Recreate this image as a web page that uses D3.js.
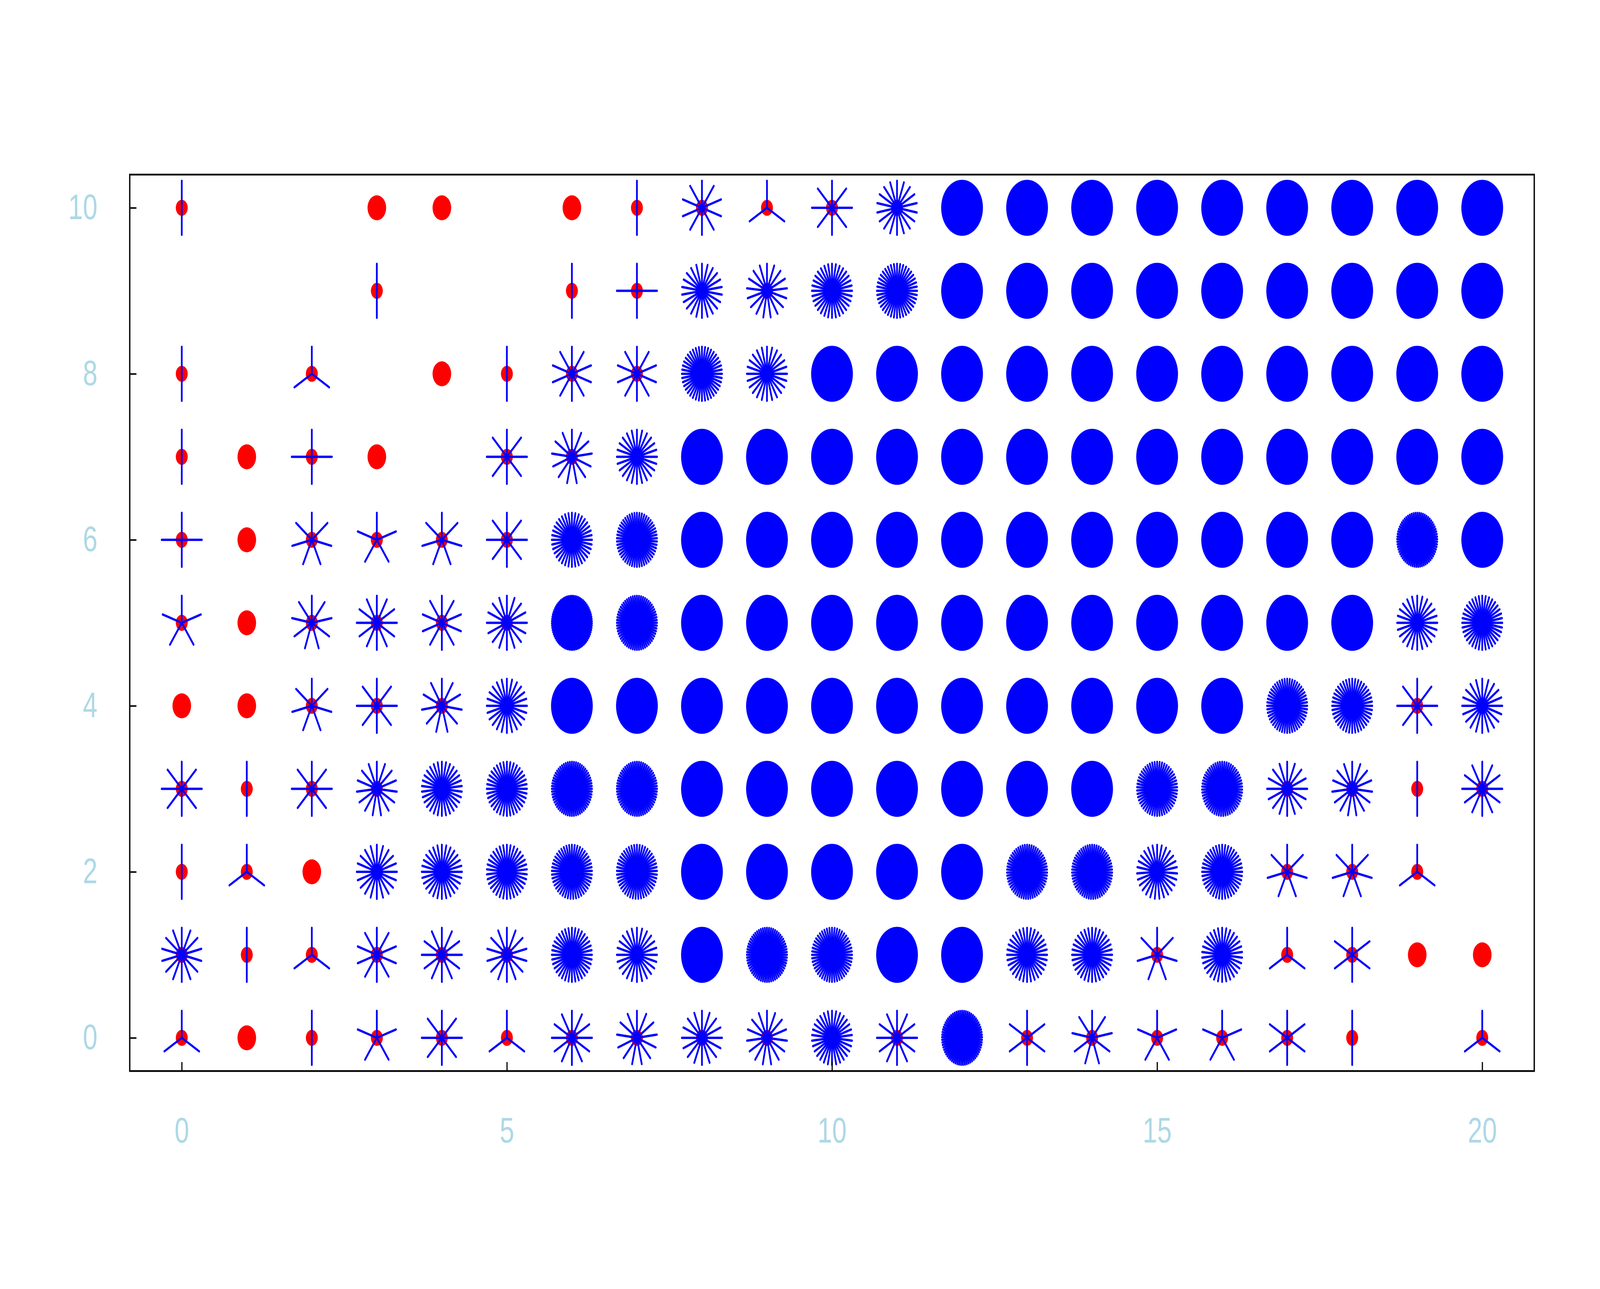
<!DOCTYPE html>
<html>
<head>
<meta charset="utf-8">
<script src="https://cdn.jsdelivr.net/npm/d3@7"></script>
<style>
  html, body { margin: 0; padding: 0; background: #ffffff; width: 100%; height: 100%; overflow: hidden; }
  svg { display: block; width: 100vw; height: 100vh; }
</style>
</head>
<body>
<svg id="chart" viewBox="0 0 5500 3300" preserveAspectRatio="none"></svg>
<script>
// ---- data: number of observations at each (x, y) grid cell, one array per y level ----
const xValues = [0,1,2,3,4,5,6,7,8,9,10,11,12,13,14,15,16,17,18,19,20];
const yValues = [0,1,2,3,4,5,6,7,8,9,10];
const countsY0  = [3,1,2,5,8,3,12,13,16,15,30,12,65,6,9,5,5,6,2,0,3];
const countsY1  = [14,2,3,10,12,14,36,24,100,60,48,100,100,32,32,7,30,3,6,1,1];
const countsY2  = [2,3,1,20,28,34,45,45,100,100,100,100,100,55,55,27,40,7,7,3,0];
const countsY3  = [8,2,8,15,30,36,60,60,100,100,100,100,100,100,100,50,55,16,15,2,12];
const countsY4  = [1,1,7,8,11,24,100,100,100,100,100,100,100,100,100,100,100,48,40,8,20];
const countsY5  = [5,1,9,12,10,16,75,60,100,100,100,100,100,100,100,100,100,100,100,24,36];
const countsY6  = [4,1,7,5,7,8,36,50,100,100,100,100,100,100,100,100,100,100,100,65,100];
const countsY7  = [2,1,4,1,0,8,13,24,100,100,100,100,100,100,100,100,100,100,100,100,100];
const countsY8  = [2,0,3,0,1,2,10,10,40,24,100,100,100,100,100,100,100,100,100,100,100];
const countsY9  = [0,0,0,2,0,0,2,4,22,17,32,40,100,100,100,100,100,100,100,100,100];
const countsY10 = [2,0,0,1,1,0,1,2,10,3,8,18,100,100,100,100,100,100,100,100,100];
const xTickValues = [0,5,10,15,20];
const yTickValues = [0,2,4,6,8,10];

const countRows = [countsY0,countsY1,countsY2,countsY3,countsY4,countsY5,countsY6,countsY7,countsY8,countsY9,countsY10];
const cells = [];
yValues.forEach((y, j) => {
  xValues.forEach((x, i) => {
    const n = countRows[j][i];
    if (n > 0) cells.push({x, y, n});
  });
});

// ---- layout (drawn in a 5500 x 3300 coordinate space that fills the window) ----
const W = 5500, H = 3300;
const plot = {left: 446, right: 5274, top: 447, bottom: 2742};
const x = d3.scaleLinear().domain([-0.8, 20.8]).range([plot.left, plot.right]);
const y = d3.scaleLinear().domain([-0.4, 10.4]).range([plot.bottom, plot.top]);

const petalLen = 69;
const svg = d3.select("#chart");
svg.append("rect").attr("width", W).attr("height", H).attr("fill", "#ffffff");

// points: single observations as large red dots, multiples as small red centres
svg.append("g").selectAll("circle")
  .data(cells)
  .join("circle")
  .attr("cx", d => x(d.x))
  .attr("cy", d => y(d.y))
  .attr("r", d => d.n === 1 ? 32 : 20.5)
  .attr("fill", "#ff0000");

// petals (one per observation, first one pointing straight up)
const petals = [];
cells.filter(d => d.n > 1).forEach(d => {
  for (let k = 1; k <= d.n; k++) {
    const a = 2 * Math.PI * k / d.n;
    petals.push({x: d.x, y: d.y, a});
  }
});
svg.append("g")
  .attr("stroke", "#0000ff")
  .attr("stroke-width", 6)
  .attr("stroke-linecap", "round")
  .selectAll("line")
  .data(petals)
  .join("line")
  .attr("x1", d => x(d.x))
  .attr("y1", d => y(d.y))
  .attr("x2", d => x(d.x) + petalLen * Math.sin(d.a))
  .attr("y2", d => y(d.y) - petalLen * Math.cos(d.a));

// axes (ticks point inward, labels light blue)
const font = "'Liberation Sans', Arial, Helvetica, sans-serif";
const xAxis = svg.append("g")
  .attr("transform", `translate(0,${plot.bottom})`)
  .call(d3.axisBottom(x).tickValues(xTickValues).tickSizeInner(-23).tickSizeOuter(0).tickPadding(119));
const yAxis = svg.append("g")
  .attr("transform", `translate(${plot.left},0)`)
  .call(d3.axisLeft(y).tickValues(yTickValues).tickSizeInner(-23).tickSizeOuter(0).tickPadding(111));
[xAxis, yAxis].forEach(g => {
  g.select(".domain").remove();
  g.selectAll(".tick line").attr("stroke", "#000000").attr("stroke-width", 4);
  g.selectAll(".tick text")
    .attr("fill", "#add8e6")
    .style("font-family", font)
    .style("font-size", "90px");
});

// box
svg.append("rect")
  .attr("x", plot.left).attr("y", plot.top)
  .attr("width", plot.right - plot.left)
  .attr("height", plot.bottom - plot.top)
  .attr("fill", "none")
  .attr("stroke", "#000000")
  .attr("stroke-width", 4.5);
</script>
</body>
</html>
